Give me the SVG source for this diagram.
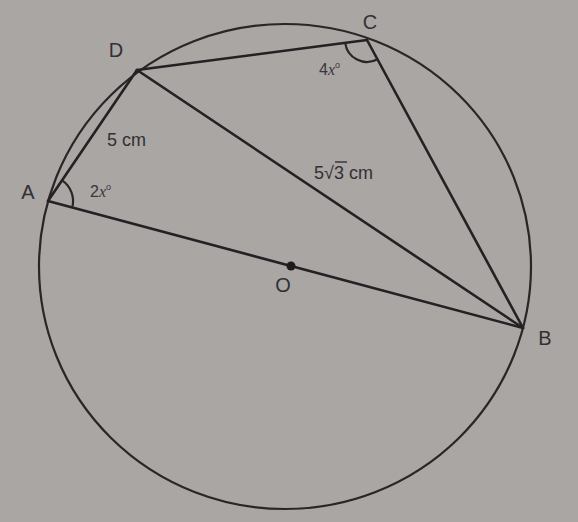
<svg xmlns="http://www.w3.org/2000/svg" width="578" height="522" viewBox="0 0 578 522">
<style>
.ln{stroke:#242124;stroke-width:2.6;fill:none;stroke-linecap:round;stroke-linejoin:round}
.thin{stroke:#2a2628;stroke-width:2.2;fill:none}
.lbl{font-family:"Liberation Sans",Arial,sans-serif;font-size:20px;fill:#333033;text-anchor:middle}
.meas{font-family:"Liberation Sans",Arial,sans-serif;font-size:18px;fill:#333033}
.ang{font-family:"Liberation Sans",Arial,sans-serif;font-size:16px;fill:#3a3639}
</style>
<rect x="0" y="0" width="578" height="522" fill="#a9a6a4"/>
<g id="circle">
<ellipse class="thin" cx="285" cy="266.5" rx="246" ry="242.5"/>
</g>
<g id="connectors">
<line class="ln" x1="48" y1="201" x2="137" y2="70"/>
<line class="ln" x1="137" y1="70" x2="367" y2="40"/>
<line class="ln" x1="367" y1="40" x2="523" y2="328"/>
<line class="ln" x1="137" y1="70" x2="523" y2="328"/>
<line class="ln" x1="48" y1="201" x2="523" y2="328"/>
<path class="thin" d="M62.1 180.3 A25 25 0 0 1 72.2 207.5"/>
<path class="thin" d="M345.2 42.8 A22 22 0 0 0 377.5 59.3"/>
</g>
<g id="O">
<circle cx="291" cy="266" r="4.5" fill="#1e1b1d"/>
<text class="lbl" x="283" y="292">O</text>
</g>
<g id="A"><text class="lbl" x="28" y="199">A</text></g>
<g id="D"><text class="lbl" x="116" y="57">D</text></g>
<g id="C"><text class="lbl" x="370" y="29">C</text></g>
<g id="B"><text class="lbl" x="545" y="345">B</text></g>
<g id="labels">
<text class="meas" x="107" y="146">5 cm</text>
<text class="meas" x="314" y="179" font-size="19">5√3 cm</text>
<line x1="335" y1="162" x2="347" y2="162" stroke="#333033" stroke-width="1.4"/>
<text class="ang" x="90" y="197">2<tspan font-family="Liberation Serif,serif" font-style="italic">x</tspan><tspan font-size="9" dy="-7">o</tspan></text>
<text class="ang" x="319" y="75">4<tspan font-family="Liberation Serif,serif" font-style="italic">x</tspan><tspan font-size="9" dy="-7">o</tspan></text>
</g>
</svg>
